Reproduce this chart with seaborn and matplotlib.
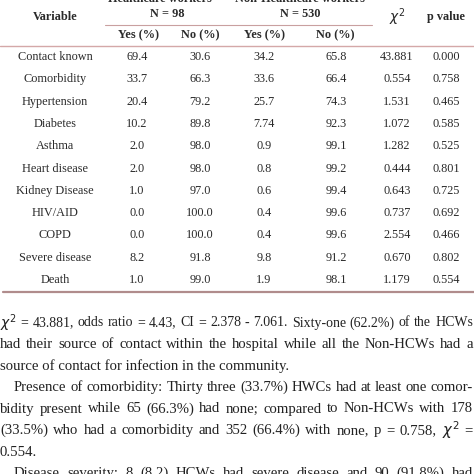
import matplotlib
matplotlib.use("Agg")
import matplotlib.pyplot as plt
import seaborn as sns

sns.set_style("white")
plt.rcParams['font.family'] = ['Liberation Serif', 'DejaVu Serif']

variables = ["Contact known", "Comorbidity", "Hypertension", "Diabetes", "Asthma",
             "Heart disease", "Kidney Disease", "HIV/AID", "COPD", "Severe disease", "Death"]
hcw_yes = ["69.4", "33.7", "20.4", "10.2", "2.0", "2.0", "1.0", "0.0", "0.0", "8.2", "1.0"]
hcw_no = ["30.6", "66.3", "79.2", "89.8", "98.0", "98.0", "97.0", "100.0", "100.0", "91.8", "99.0"]
non_yes = ["34.2", "33.6", "25.7", "7.74", "0.9", "0.8", "0.6", "0.4", "0.4", "9.8", "1.9"]
non_no = ["65.8", "66.4", "74.3", "92.3", "99.1", "99.2", "99.4", "99.6", "99.6", "91.2", "98.1"]
chi2 = ["43.881", "0.554", "1.531", "1.072", "1.282", "0.444", "0.643", "0.737", "2.554", "0.670", "1.179"]
pval = ["0.000", "0.758", "0.465", "0.585", "0.525", "0.801", "0.725", "0.692", "0.466", "0.802", "0.554"]

body = [
    (0, True, r"$\chi^2$ = 43.881, odds ratio = 4.43, CI = 2.378 - 7.061. Sixty-one (62.2%) of the HCWs"),
    (0, True, "had their source of contact within the hospital while all the Non-HCWs had a"),
    (0, False, "source of contact for infection in the community."),
    (14, True, "Presence of comorbidity: Thirty three (33.7%) HWCs had at least one comor-"),
    (0, True, "bidity present while 65 (66.3%) had none; compared to Non-HCWs with 178"),
    (0, True, r"(33.5%) who had a comorbidity and 352 (66.4%) with none, p = 0.758, $\chi^2$ ="),
    (0, False, "0.554."),
    (14, True, "Disease severity: 8 (8.2) HCWs had severe disease and 90 (91.8%) had"),
]

fig = plt.figure(figsize=(4.74, 4.74), dpi=100)
ax = fig.add_axes([0, 0, 1, 1])
ax.set_xlim(0, 474)
ax.set_ylim(474, 0)
ax.axis("off")
renderer = fig.canvas.get_renderer()

tc = "#2a2a2a"
fs = 8.8
ax.text(160, -1, "Healthcare workers", ha="center", va="center", fontsize=fs, weight="bold", color=tc)
ax.text(300, -1, "Non-Healthcare workers", ha="center", va="center", fontsize=fs, weight="bold", color=tc)
ax.text(55, 17, "Variable", ha="center", va="center", fontsize=fs, weight="bold", color=tc)
ax.text(167, 14, "N = 98", ha="center", va="center", fontsize=fs, weight="bold", color=tc)
ax.text(300, 14, "N = 530", ha="center", va="center", fontsize=fs, weight="bold", color=tc)
ax.text(397, 17, r"$\chi^2$", ha="center", va="center", fontsize=fs + 1, color=tc)
ax.text(446, 17, "p value", ha="center", va="center", fontsize=fs, weight="bold", color=tc)
ax.plot([105, 372], [24.5, 24.5], color="#c9a0a0", lw=0.8)
xs = [139, 200, 265, 335]
for x in xs[::2]:
    ax.text(x, 35, "Yes (%)", ha="center", va="center", fontsize=fs, weight="bold", color=tc)
for x in xs[1::2]:
    ax.text(x, 35, "No (%)", ha="center", va="center", fontsize=fs, weight="bold", color=tc)
ax.plot([0, 474], [45.5, 45.5], color="#d4a8a8", lw=1.0)

cols = [hcw_yes, hcw_no, non_yes, non_no, chi2, pval]
cx = [137, 200, 264, 336, 397, 446]
for i, v in enumerate(variables):
    y = 57 + i * 22.3
    ax.text(55, y, v, ha="center", va="center", fontsize=fs, color=tc)
    for c, x in zip(cols, cx):
        ax.text(x, y, c[i], ha="center", va="center", fontsize=fs, color=tc)
ax.plot([3, 474], [292, 292], color="#b08c8c", lw=1.6)

bfs = 10.6
right = 473
for j, (ind, just, line) in enumerate(body):
    y = 323 + j * 21.5
    if not just:
        ax.text(ind, y, line, ha="left", va="center", fontsize=bfs, color="#222222")
        continue
    words = line.split(" ")
    size = bfs
    while True:
        arts = [ax.text(0, y, w, ha="left", va="center", fontsize=size, color="#222222") for w in words]
        widths = [a.get_window_extent(renderer).width for a in arts]
        space = size * 0.25 * 100 / 72
        if sum(widths) + space * (len(words) - 1) <= right - ind or size < 8:
            break
        for a in arts:
            a.remove()
        size -= 0.2
    gap = (right - ind - sum(widths)) / (len(words) - 1)
    x = ind
    for a, w in zip(arts, widths):
        a.set_x(x)
        x += w + gap

fig.savefig("out.png", dpi=100, facecolor="white")
